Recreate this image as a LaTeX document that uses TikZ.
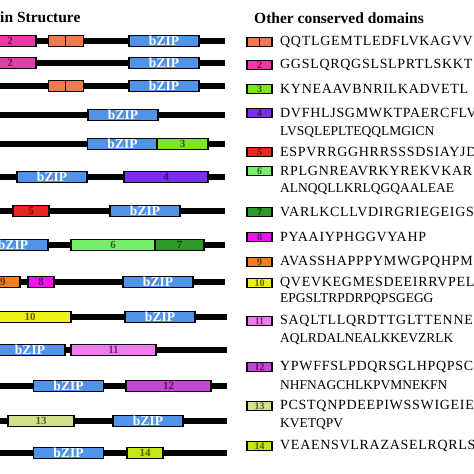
\documentclass[tikz,border=0pt]{standalone}
\usepackage{fontspec}
\setmainfont{Liberation Serif}
\definecolor{bzipblue}{HTML}{4F94E8}
\definecolor{c1}{HTML}{F37A4E}
\definecolor{c2}{HTML}{E83CA8}
\definecolor{c3}{HTML}{7DE61E}
\definecolor{c4}{HTML}{7B2FE6}
\definecolor{c5}{HTML}{E8261E}
\definecolor{c6}{HTML}{78EE6C}
\definecolor{c7}{HTML}{2E9A2A}
\definecolor{c8}{HTML}{F014F0}
\definecolor{c9}{HTML}{F0801E}
\definecolor{c10}{HTML}{F0F014}
\definecolor{c11}{HTML}{F07AF0}
\definecolor{c12}{HTML}{C444D4}
\definecolor{c13}{HTML}{D2E28C}
\definecolor{c14}{HTML}{C8E614}
\tikzset{
  every picture/.style={line join=miter},
  backbone/.style={line width=5.5pt, line cap=butt},
  dom/.style={draw=black, line width=1.3pt, inner sep=0pt, minimum height=11.5pt, font=\bfseries\fontsize{11}{11}\selectfont},
  bzip/.style={dom, fill=bzipblue, text=white, minimum width=70pt, font=\bfseries\fontsize{13.5}{13.5}\selectfont},
  key/.style={draw=black, line width=1.3pt, inner sep=0pt, minimum width=25pt, minimum height=9pt, font=\bfseries\fontsize{10}{10}\selectfont},
  seq/.style={anchor=west, inner sep=0pt, font=\fontsize{14}{14}\selectfont\addfontfeature{LetterSpace=5}},
  seqtwo/.style={anchor=west, inner sep=0pt, font=\fontsize{13.5}{13.5}\selectfont},
  head/.style={anchor=west, inner sep=0pt, font=\bfseries\fontsize{15.5}{15.5}\selectfont},
  d1/.style={fill=c1, text=c1!40!black},
  d2/.style={fill=c2, text=c2!40!black},
  d3/.style={fill=c3, text=c3!40!black},
  d4/.style={fill=c4, text=c4!40!black},
  d5/.style={fill=c5, text=c5!40!black},
  d6/.style={fill=c6, text=c6!40!black},
  d7/.style={fill=c7, text=c7!40!black},
  d8/.style={fill=c8, text=c8!40!black},
  d9/.style={fill=c9, text=c9!40!black},
  d10/.style={fill=c10, text=c10!40!black},
  d11/.style={fill=c11, text=c11!40!black},
  d12/.style={fill=c12, text=c12!40!black},
  d13/.style={fill=c13, text=c13!40!black},
  d14/.style={fill=c14, text=c14!40!black},
}

\begin{document}
\begin{tikzpicture}[x=1pt,y=-1pt]
\useasboundingbox (0,0) rectangle (474,474);
% headings
\node[head] (hleft) at (0,17) {in Structure};
\node[head] (hright) at (254,18) {Other conserved domains};
% backbones
\draw[backbone] (0,41)--(225,41);
\draw[backbone] (0,63)--(225,63);
\draw[backbone] (0,86)--(225,86);
\draw[backbone] (0,115)--(225,115);
\draw[backbone] (0,144)--(225,144);
\draw[backbone] (0,177)--(225,177);
\draw[backbone] (0,211)--(225,211);
\draw[backbone] (0,245)--(225,245);
\draw[backbone] (0,282)--(225,282);
\draw[backbone] (0,317)--(227,317);
\draw[backbone] (0,350)--(227,350);
\draw[backbone] (0,386)--(227,386);
\draw[backbone] (0,421)--(227,421);
\draw[backbone] (0,453)--(227,453);
% row 1
\node[dom,d2,minimum width=52pt] (r1a) at (10,41) {2};
\node[dom,d1,minimum width=17.5pt] (r1b) at (57,41) {};
\node[dom,d1,minimum width=17.5pt] (r1c) at (74.5,41) {};
\node[bzip] (r1z) at (164,41) {bZIP};
% row 2
\node[dom,d2,minimum width=52pt] (r2a) at (10,63) {2};
\node[bzip] (r2z) at (164,63) {bZIP};
% row 3
\node[dom,d1,minimum width=17.5pt] (r3a) at (57,86) {};
\node[dom,d1,minimum width=17.5pt] (r3b) at (74.5,86) {};
\node[bzip] (r3z) at (164,86) {bZIP};
% row 4
\node[bzip] (r4z) at (123,115) {bZIP};
% row 5
\node[bzip] (r5z) at (122.5,144) {bZIP};
\node[dom,d3,minimum width=51pt] (r5a) at (182.5,144) {3};
% row 6
\node[bzip] (r6z) at (52,177) {bZIP};
\node[dom,d4,minimum width=84pt] (r6a) at (166,177) {4};
% row 7
\node[dom,d5,minimum width=36pt] (r7a) at (31,211) {5};
\node[bzip] (r7z) at (145,211) {bZIP};
% row 8
\node[bzip] (r8z) at (13,245) {bZIP};
\node[dom,d6,minimum width=84pt] (r8a) at (113,245) {6};
\node[dom,d7,minimum width=49pt] (r8b) at (179.5,245) {7};
% row 9
\node[dom,d9,minimum width=34pt] (r9a) at (3,282) {9};
\node[dom,d8,minimum width=26pt] (r9b) at (41,282) {8};
\node[bzip] (r9z) at (158,282) {bZIP};
% row 10
\node[dom,d10,minimum width=82pt] (r10a) at (30,317) {10};
\node[bzip] (r10z) at (160,317) {bZIP};
% row 11
\node[bzip] (r11z) at (30,350) {bZIP};
\node[dom,d11,minimum width=85pt] (r11a) at (113.5,350) {11};
% row 12
\node[bzip] (r12z) at (68.5,386) {bZIP};
\node[dom,d12,minimum width=85pt] (r12a) at (168.5,386) {12};
% row 13
\node[dom,d13,minimum width=66pt] (r13a) at (41,421) {13};
\node[bzip] (r13z) at (148,421) {bZIP};
% row 14
\node[bzip] (r14z) at (68.5,453) {bZIP};
\node[dom,d14,minimum width=36pt] (r14a) at (145,453) {14};
% legend keys
\node[key,d1,minimum width=12.5pt] (k1a) at (253.25,42) {};
\node[key,d1,minimum width=12.5pt] (k1b) at (265.75,42) {};
\node[key,d2] (k2) at (259.5,65) {2};
\node[key,d3] (k3) at (259.5,89) {3};
\node[key,d4] (k4) at (259.5,113) {4};
\node[key,d5] (k5) at (259.5,152) {5};
\node[key,d6] (k6) at (259.5,171) {6};
\node[key,d7] (k7) at (259.5,212) {7};
\node[key,d8] (k8) at (259.5,237) {8};
\node[key,d9] (k9) at (259.5,262) {9};
\node[key,d10] (k10) at (259.5,283) {10};
\node[key,d11] (k11) at (259.5,321) {11};
\node[key,d12] (k12) at (259.5,367) {12};
\node[key,d13] (k13) at (259.5,406) {13};
\node[key,d14] (k14) at (259.5,446) {14};
% legend sequences
\node[seq] (s1) at (280,42) {QQTLGEMTLEDFLVKAGVV};
\node[seq] (s2) at (280,65) {GGSLQRQGSLSLPRTLSKKT};
\node[seq] (s3) at (280,89) {KYNEAAVBNRILKADVETL};
\node[seq] (s4) at (280,113) {DVFHLJSGMWKTPAERCFLV};
\node[seqtwo] (s4b) at (280,132) {LVSQLEPLTEQQLMGICN};
\node[seq] (s5) at (280,152) {ESPVRRGGHRRSSSDSIAYJD};
\node[seq] (s6) at (280,171) {RPLGNREAVRKYREKVKAR};
\node[seqtwo] (s6b) at (280,189) {ALNQQLLKRLQGQAALEAE};
\node[seq] (s7) at (280,212) {VARLKCLLVDIRGRIEGEIGS};
\node[seq] (s8) at (280,237) {PYAAIYPHGGVYAHP};
\node[seq] (s9) at (280,262) {AVASSHAPPPYMWGPQHPM};
\node[seq] (s10) at (280,283) {QVEVKEGMESDEEIRRVPEL};
\node[seqtwo] (s10b) at (280,299) {EPGSLTRPDRPQPSGEGG};
\node[seq] (s11) at (280,321) {SAQLTLLQRDTTGLTTENNE};
\node[seqtwo] (s11b) at (280,339) {AQLRDALNEALKKEVZRLK};
\node[seq] (s12) at (280,367) {YPWFFSLPDQRSGLHPQPSC};
\node[seqtwo] (s12b) at (280,385) {NHFNAGCHLKPVMNEKFN};
\node[seq] (s13) at (280,406) {PCSTQNPDEEPIWSSWIGEIE};
\node[seqtwo] (s13b) at (280,424) {KVETQPV};
\node[seq] (s14) at (280,446) {VEAENSVLRAZASELRQRLS};
\end{tikzpicture}
\end{document}
